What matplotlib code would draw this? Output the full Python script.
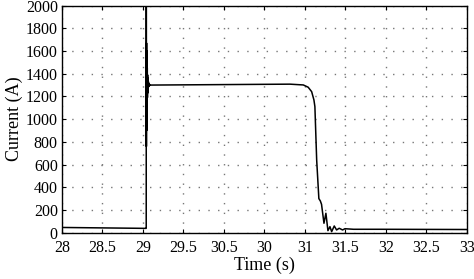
import matplotlib
matplotlib.use('Agg')
import matplotlib.pyplot as plt
import numpy as np

plt.rcParams['font.family'] = 'Liberation Serif'
plt.rcParams['font.size'] = 11.5
plt.rcParams['xtick.direction'] = 'in'
plt.rcParams['ytick.direction'] = 'in'

# time (s) and current (A)
t = [28.0, 29.039, 29.0400, 29.0410, 29.0425, 29.0440, 29.0455, 29.0470, 29.0485,
     29.0500, 29.0515, 29.0530, 29.0550, 29.0570, 29.0590, 29.0610, 29.0640,
     29.0670, 29.0700, 29.0740, 29.0780, 29.0830, 29.0900,
     30.815, 30.98, 31.04, 31.083, 31.111, 31.123, 31.145, 31.172, 31.19,
     31.205, 31.235, 31.259, 31.284, 31.309, 31.330, 31.362, 31.391, 31.423,
     31.465, 31.494, 31.6, 31.93, 33.0]
current = [46, 38, 40, 2150, 760, 1670, 900, 1600, 1050,
           1520, 1120, 1450, 1190, 1390, 1230, 1360, 1265,
           1330, 1285, 1315, 1295, 1305, 1300,
           1308, 1301, 1281, 1242, 1169, 1110, 640, 300, 280,
           250, 83, 171, 18, 53, 9, 59, 24, 39,
           24, 35, 30, 30, 28]

xticks = [28, 28.5, 29, 29.5, 30, 30.5, 31, 31.5, 32, 32.5, 33]
# labels as printed in the original figure (30 / 30.5 swapped)
xticklabels = ['28', '28.5', '29', '29.5', '30.5', '30', '31', '31.5', '32', '32.5', '33']
yticks = np.arange(0, 2001, 200)

fig = plt.figure(figsize=(4.74, 2.79), dpi=100)
ax = fig.add_axes([0.1308, 0.166, 0.8542, 0.814])

ax.plot(t, current, color='k', linewidth=1.1)

ax.set_xlim(28, 33)
ax.set_ylim(0, 2000)
ax.set_xticks(xticks)
ax.set_xticklabels(xticklabels)
ax.set_yticks(yticks)

ax.grid(True, color='#777777', linestyle=(0, (1, 6)), linewidth=1.0)
ax.tick_params(which='both', top=True, right=True, length=3, width=0.8)
ax.tick_params(axis='x', pad=5)
ax.tick_params(axis='y', pad=3)
for s in ax.spines.values():
    s.set_linewidth(1.0)

ax.set_xlabel('Time (s)', fontsize=13, labelpad=1)
ax.set_ylabel('Current (A)', fontsize=13, labelpad=2)

plt.savefig('out.png', dpi=100)
